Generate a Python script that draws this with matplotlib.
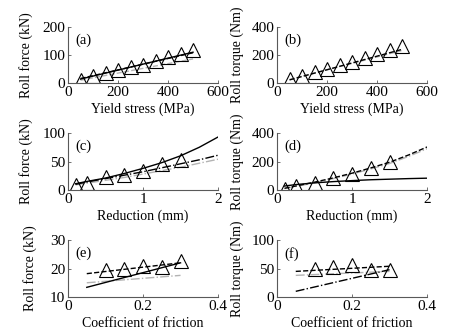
import matplotlib as mpl
import matplotlib.pyplot as plt
import numpy as np

# (a) roll force vs yield stress
ys_exp = [50, 100, 150, 200, 250, 300, 350, 400, 450, 500]
force_a_exp = [12, 25, 35, 46, 56, 66, 80, 92, 105, 118]
ys_line = [50, 500]
force_a_model1 = [14, 110]
force_a_model2 = [16, 108]
force_a_model3 = [10, 86]

# (b) roll torque vs yield stress
torque_b_exp = [25, 52, 78, 100, 128, 152, 180, 210, 235, 262]
torque_b_model1 = [22, 240]
torque_b_model2 = [25, 232]

# (c) roll force vs reduction
red_exp = [0.1, 0.25, 0.5, 0.75, 1.0, 1.25, 1.5]
force_c_exp = [8, 12, 22, 27, 34, 45, 52]
red_line = [0.1, 0.25, 0.5, 0.75, 1.0, 1.25, 1.5, 1.75, 2.0]
force_c_solid = [11, 15, 21, 29, 38, 48, 60, 75, 93]
force_c_dash = [10, 14, 20, 26, 32, 39, 46, 53, 61]
force_c_gray = [9, 12, 17, 22, 28, 34, 40, 47, 54]

# (d) roll torque vs reduction
torque_d_exp = [10, 25, 50, 85, 115, 155, 195]
torque_d_solid = [28, 38, 50, 59, 66, 72, 76, 80, 83]
torque_d_dash = [12, 28, 55, 85, 118, 155, 195, 245, 302]
torque_d_gray = [10, 25, 50, 80, 112, 148, 186, 235, 290]

# (e) roll force vs friction
mu_exp = [0.1, 0.15, 0.2, 0.25, 0.3]
force_e_exp = [19.5, 20.0, 21.0, 20.5, 22.5]
mu_line = [0.05, 0.3]
force_e_dash = [18.2, 22.0]
force_e_solid = [13.4, 22.0]
force_e_gray = [15.0, 17.6]

# (f) roll torque vs friction
torque_f_exp = [50, 53, 56, 48, 48]
torque_f_dash = [45, 54]
torque_f_solid = [10, 48]
torque_f_gray = [38, 45]

mpl.rcParams["font.family"] = "Liberation Serif"
mpl.rcParams["font.size"] = 10
mpl.rcParams["axes.labelsize"] = 10
mpl.rcParams["xtick.labelsize"] = 11
mpl.rcParams["ytick.labelsize"] = 11

fig = plt.figure(figsize=(4.74, 3.36), dpi=100)

lefts = [0.1435, 0.5844]
bottoms = [0.753, 0.4345, 0.116]
w = 0.3165
hs = [0.1667, 0.1696, 0.1696]

axes = {}
letters = [["a", "b"], ["c", "d"], ["e", "f"]]
for r in range(3):
    for c in range(2):
        ax = fig.add_axes([lefts[c], bottoms[r], w, hs[r]])
        for s in ["top", "right"]:
            ax.spines[s].set_visible(False)
        for s in ["left", "bottom"]:
            ax.spines[s].set_color("0.35")
            ax.spines[s].set_linewidth(0.8)
        ax.tick_params(direction="in", length=2, width=0.6, color="0.35", pad=2)
        ax.text(0.05, 0.88, "(%s)" % letters[r][c], transform=ax.transAxes,
                va="top", ha="left", fontsize=10.5)
        axes[letters[r][c]] = ax

tri = dict(marker="^", markersize=10, markerfacecolor="none",
           markeredgecolor="black", linestyle="none", markeredgewidth=0.8)

ax = axes["a"]
ax.plot(ys_line, force_a_model3, color="0.7", linestyle="--", lw=1)
ax.plot(ys_line, force_a_model1, color="black", lw=1)
ax.plot(ys_line, force_a_model2, color="black", linestyle="--", lw=1)
ax.plot(ys_exp, force_a_exp, **tri)
ax.set_xlim(0, 600)
ax.set_ylim(0, 200)
ax.set_xticks([0, 200, 400, 600])
ax.set_yticks([0, 100, 200])
ax.set_xlabel("Yield stress (MPa)", labelpad=3)
ax.set_ylabel("Roll force (kN)", labelpad=7)

ax = axes["b"]
ax.plot(ys_line, torque_b_model2, color="0.7", linestyle="--", lw=1)
ax.plot(ys_line, torque_b_model1, color="black", linestyle="--", lw=1)
ax.plot(ys_exp, torque_b_exp, **tri)
ax.set_xlim(0, 600)
ax.set_ylim(0, 400)
ax.set_xticks([0, 200, 400, 600])
ax.set_yticks([0, 200, 400])
ax.set_xlabel("Yield stress (MPa)", labelpad=3)
ax.set_ylabel("Roll torque (Nm)", labelpad=5)

ax = axes["c"]
ax.plot(red_line, force_c_gray, color="0.7", linestyle="-.", lw=1)
ax.plot(red_line, force_c_solid, color="black", lw=1)
ax.plot(red_line, force_c_dash, color="black", linestyle="-.", lw=1)
ax.plot(red_exp, force_c_exp, **tri)
ax.set_xlim(0, 2)
ax.set_ylim(0, 100)
ax.set_xticks([0, 1, 2])
ax.set_yticks([0, 50, 100])
ax.set_xlabel("Reduction (mm)", labelpad=3)
ax.set_ylabel("Roll force (kN)", labelpad=7)

ax = axes["d"]
ax.plot(red_line, torque_d_gray, color="0.7", linestyle="-.", lw=1)
ax.plot(red_line, torque_d_solid, color="black", lw=1)
ax.plot(red_line, torque_d_dash, color="black", linestyle="--", lw=1)
ax.plot(red_exp, torque_d_exp, **tri)
ax.set_xlim(0, 2)
ax.set_ylim(0, 400)
ax.set_xticks([0, 1, 2])
ax.set_yticks([0, 200, 400])
ax.set_xlabel("Reduction (mm)", labelpad=3)
ax.set_ylabel("Roll torque (Nm)", labelpad=5)

ax = axes["e"]
ax.plot(mu_line, force_e_gray, color="0.7", linestyle="-.", lw=1)
ax.plot(mu_line, force_e_solid, color="black", lw=1)
ax.plot(mu_line, force_e_dash, color="black", linestyle="--", lw=1)
ax.plot(mu_exp, force_e_exp, **tri)
ax.set_xlim(0, 0.4)
ax.set_ylim(10, 30)
ax.set_xticks([0, 0.2, 0.4])
ax.set_xticklabels(["0", "0.2", "0.4"])
ax.set_yticks([10, 20, 30])
ax.set_xlabel("Coefficient of friction", labelpad=3)
ax.set_ylabel("Roll force (kN)", labelpad=9)

ax = axes["f"]
ax.plot(mu_line, torque_f_gray, color="0.7", linestyle="-.", lw=1)
ax.plot(mu_line, torque_f_solid, color="black", linestyle="-.", lw=1)
ax.plot(mu_line, torque_f_dash, color="black", linestyle="--", lw=1)
ax.plot(mu_exp, torque_f_exp, **tri)
ax.set_xlim(0, 0.4)
ax.set_ylim(0, 100)
ax.set_xticks([0, 0.2, 0.4])
ax.set_xticklabels(["0", "0.2", "0.4"])
ax.set_yticks([0, 50, 100])
ax.set_xlabel("Coefficient of friction", labelpad=3)
ax.set_ylabel("Roll torque (Nm)", labelpad=5)

fig.savefig("out.png", dpi=100)
